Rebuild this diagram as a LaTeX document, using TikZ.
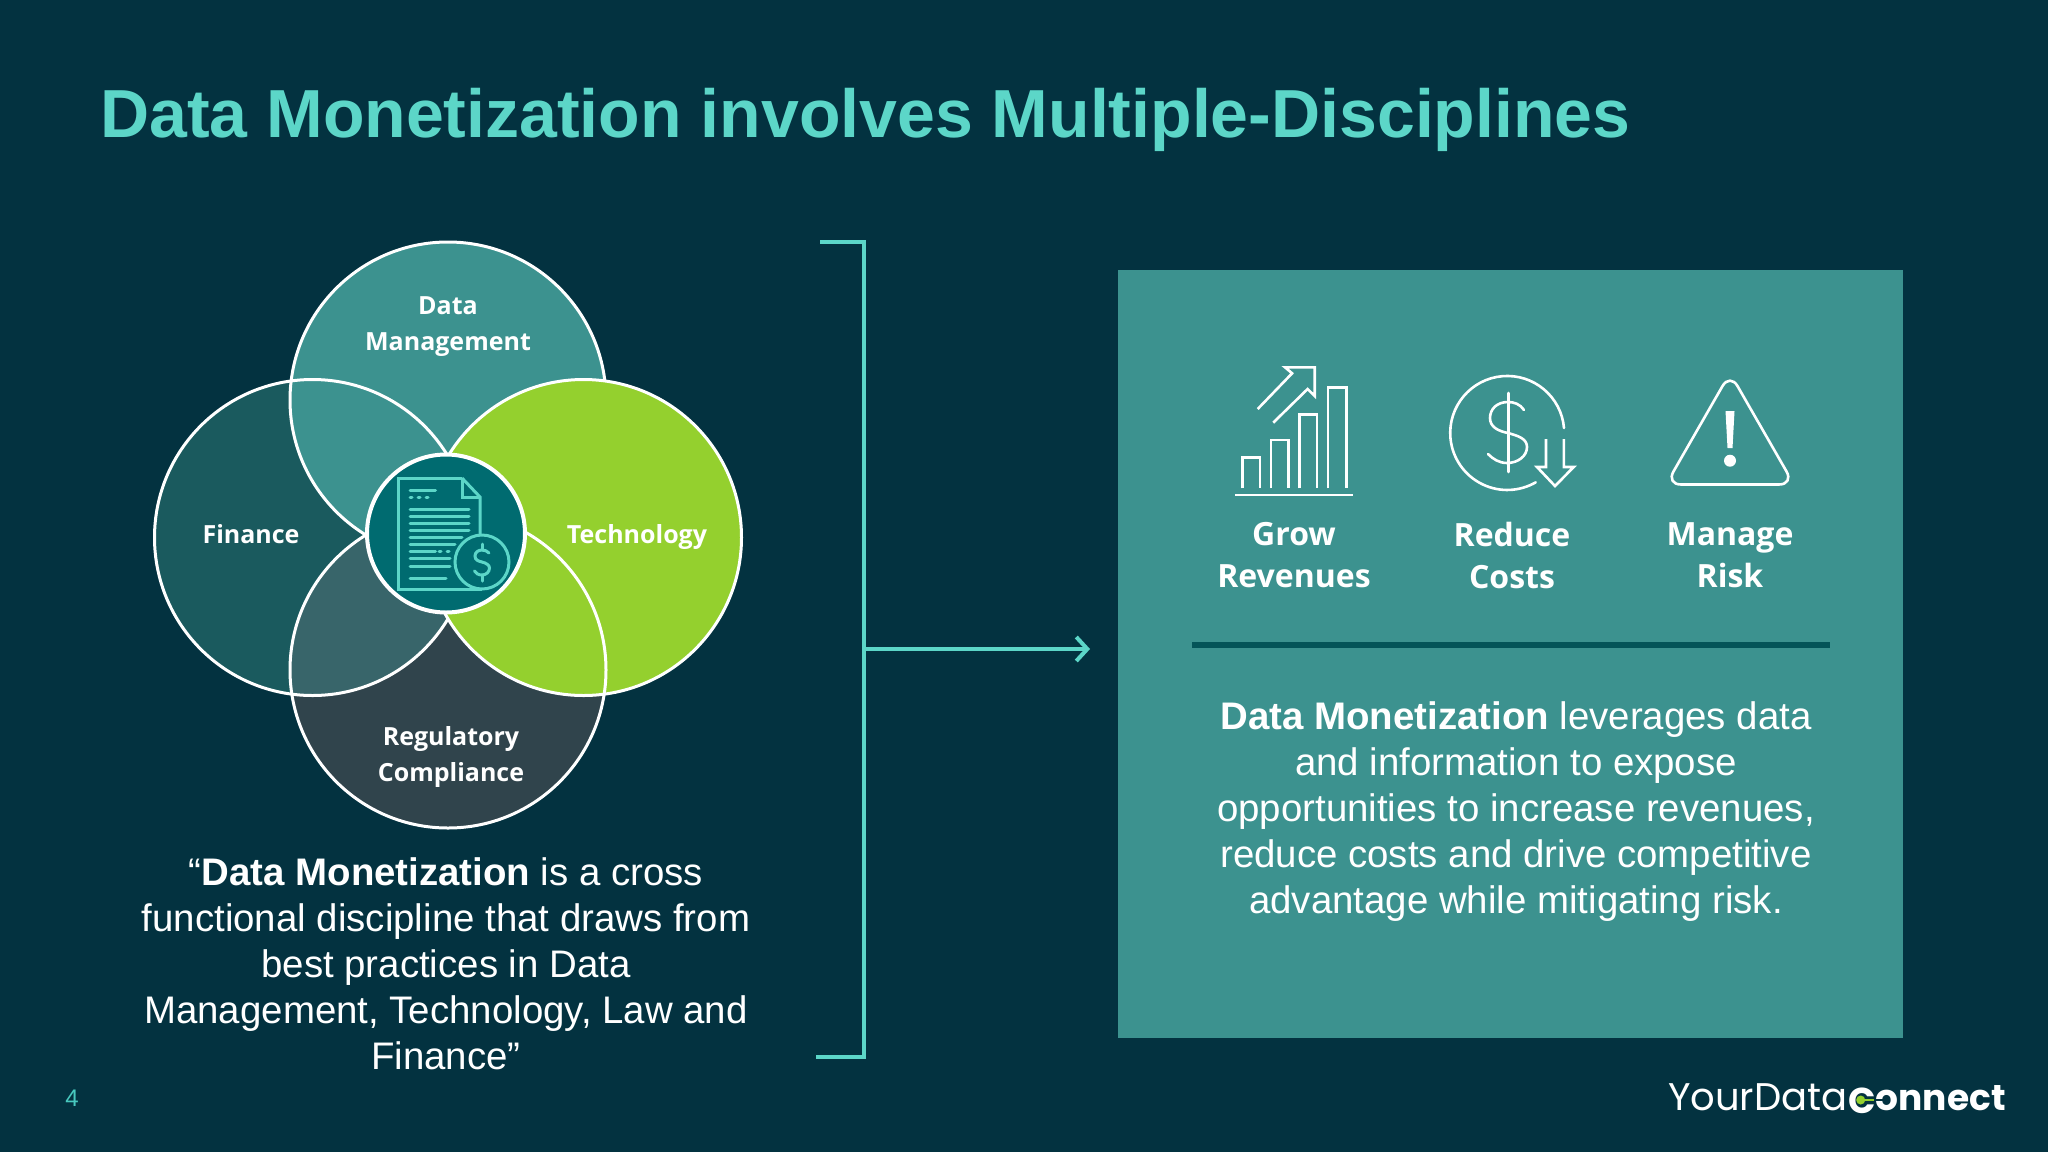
\documentclass[tikz,border=0pt]{standalone}
\usepackage{fontspec}
\setmainfont{Liberation Sans}
\newfontfamily\labelfont{Open Sans}
\newfontfamily\logofont{Poppins}
\usetikzlibrary{arrows.meta}
\definecolor{bgc}{RGB}{3,50,64}
\definecolor{aqua}{RGB}{92,214,200}
\definecolor{boxc}{RGB}{60,146,143}
\definecolor{finc}{RGB}{26,90,94}
\definecolor{lawc}{RGB}{48,68,76}
\definecolor{mixc}{RGB}{56,101,106}
\definecolor{limec}{RGB}{148,208,46}
\definecolor{corec}{RGB}{0,107,112}
\definecolor{rulec}{RGB}{4,84,88}
\definecolor{pagec}{RGB}{72,200,190}
\tikzset{
  x=1pt,y=-1pt,
  ring/.style={draw=white,line width=3pt},
  venntext/.style={text=white,align=center,font=\labelfont\bfseries\fontsize{25}{36}\selectfont,inner sep=0pt},
  icontext/.style={text=white,align=center,font=\labelfont\bfseries\fontsize{32}{42}\selectfont,inner sep=0pt},
  paratext/.style={text=white,align=center,font=\fontsize{38.4}{46}\selectfont,inner sep=0pt},
  docline/.style={draw=aqua,line width=3pt},
  iconline/.style={draw=white,line width=2.6pt},
  bracketline/.style={draw=aqua,line width=4pt},
}
\begin{document}
\begin{tikzpicture}
\useasboundingbox (0,0) rectangle (2048,1152);
\fill[bgc] (0,0) rectangle (2048,1152);
\node[anchor=base west,text=aqua,font=\bfseries\fontsize{68}{74}\selectfont,inner sep=0pt] (title) at (100,137) {Data Monetization involves Multiple-Disciplines};

% venn
\coordinate (ctop) at (448,400);
\coordinate (cbot) at (448,670);
\coordinate (clef) at (312.5,537.5);
\coordinate (crig) at (583.5,537.5);
\coordinate (ccen) at (446,533.5);
\fill[finc] (clef) circle[radius=158pt];
\fill[lawc] (cbot) circle[radius=158pt];
\begin{scope}\clip (clef) circle[radius=158pt]; \fill[mixc] (cbot) circle[radius=158pt];\end{scope}
\draw[ring] (clef) circle[radius=158pt];
\draw[ring] (cbot) circle[radius=158pt];
\fill[boxc] (ctop) circle[radius=158pt];
\draw[ring] (ctop) circle[radius=158pt];
\begin{scope}\clip (ctop) circle[radius=158pt]; \draw[ring] (clef) circle[radius=158pt];\end{scope}
\fill[limec] (crig) circle[radius=158pt];
\draw[ring] (crig) circle[radius=158pt];
\begin{scope}\clip (crig) circle[radius=158pt]; \draw[ring] (cbot) circle[radius=158pt];\end{scope}
\fill[corec] (ccen) circle[radius=80pt];
\draw[draw=white,line width=4pt] (ccen) circle[radius=79pt];

% document icon
\draw[docline] (462,478) -- (398,478) -- (398,589) -- (482,589);
\draw[docline] (462,478) -- (462,497) -- (480,497);
\draw[docline] (462,478) -- (480,497) -- (480,535);
\draw[docline,line cap=round] (410,490) -- (435.5,490);
\draw[docline,line cap=round] (410,497) -- (412,497) (418,497) -- (420,497) (426,497) -- (428,497);
\foreach \yy/\xe in {509/469,516/469,523/469,530/469,537/462,544/455,558/450,566/450,578/446}{
  \draw[docline,line cap=round] (410,\yy) -- (\xe,\yy);
}
\draw[docline,line cap=round] (410,551) -- (435.5,551) (439,551) -- (441,551) (447,551) -- (449,551);
\filldraw[fill=corec,docline] (482,562) circle[radius=27pt];
\draw[docline,line cap=round] (489,553) .. controls (487,551) and (485,550) .. (482,550) .. controls (478,550) and (475,552.5) .. (475,556) .. controls (475,560) and (478,561) .. (482,562) .. controls (486,563) and (489.5,565) .. (489.5,568) .. controls (489.5,572) and (486,575) .. (482,575) .. controls (478.5,575) and (476,573.5) .. (474.5,571);
\draw[docline,line cap=round] (482,544) -- (482,550) (482,575) -- (482,581);

\node[venntext] (ndata) at (448,327) {Data\\Management};
\node[venntext,anchor=base] (nfin) at (251,543) {Finance};
\node[venntext,anchor=base] (ntech) at (637,543) {Technology};
\node[venntext] (nreg) at (451,757) {Regulatory\\Compliance};

\node[paratext] (quote) at (446,963.5) {“\textbf{Data Monetization} is a cross\\functional discipline that draws from\\best practices in Data\\Management, Technology, Law and\\Finance”};

% bracket
\coordinate (bra) at (820,241.5);
\coordinate (brb) at (864,241.5);
\coordinate (brc) at (864,1056.5);
\coordinate (brd) at (816,1056.5);
\coordinate (arrs) at (864,649);
\coordinate (arre) at (1090,649);
\draw[bracketline] (bra) -- (brb) -- (brc) -- (brd);
\draw[bracketline,-{Straight Barb[length=11pt,width=24pt,line width=4pt]}] (arrs) -- (arre);

% box
\fill[boxc] (1118,270) rectangle (1903,1038);
\node[icontext] (ngrow) at (1294,555) {Grow\\Revenues};
\node[icontext] (nred) at (1512,555) {Reduce\\Costs};
\node[icontext] (nman) at (1730,555) {Manage\\Risk};
\coordinate (rula) at (1192,644.5);
\coordinate (rulb) at (1830,644.5);
\draw[draw=rulec,line width=6pt] (rula) -- (rulb);
\node[paratext] (body) at (1516,812) {\textbf{Data Monetization} leverages data\\and information to expose\\opportunities to increase revenues,\\reduce costs and drive competitive\\advantage while mitigating risk.};

% grow icon
\draw[iconline] (1242.3,488.3) -- (1242.3,457.7) -- (1260,457.7) -- (1260,488.3);
\draw[iconline] (1270.8,488.3) -- (1270.8,440) -- (1288.2,440) -- (1288.2,488.3);
\draw[iconline] (1299.6,488.3) -- (1299.6,414.7) -- (1317,414.7) -- (1317,488.3);
\draw[iconline] (1328,488.3) -- (1328,387.3) -- (1346.3,387.3) -- (1346.3,488.3);
\draw[iconline] (1234.8,495) -- (1353.4,495);
\draw[iconline] (1257.7,409) -- (1292.1,373.3) -- (1285,367.3) -- (1314.7,367.3) -- (1314.7,396) -- (1307.6,389) -- (1273.2,422.7);

% reduce icon
\draw[iconline,line cap=round] (1564,428) arc[start angle=5,end angle=300,radius=57pt];
\draw[iconline,line cap=round] (1524,410) .. controls (1520,404) and (1514,402) .. (1508,402) .. controls (1497,402) and (1490,409) .. (1490,418) .. controls (1490,427) and (1498,431) .. (1508,433) .. controls (1519,436) and (1527,439) .. (1527,447) .. controls (1527,456) and (1518,463) .. (1507,463) .. controls (1499,463) and (1493,459) .. (1488,454);
\draw[iconline,line cap=round] (1508.4,393) -- (1508.4,472);
\draw[iconline] (1546,439) -- (1546,467) -- (1537,467) -- (1555,486) -- (1573.7,467) -- (1563.8,467) -- (1563.8,439);

% warning icon
\draw[iconline,rounded corners=15pt] (1730,484.5) -- (1666,484.5) -- (1730,373) -- (1794,484.5) -- cycle;
\fill[white] (1725.5,411) -- (1734.5,411) -- (1732.5,448) -- (1727.5,448) -- cycle;
\fill[white] (1730,460.7) circle[radius=6pt];

% page number and logo
\node[anchor=center,text=pagec,font=\fontsize{24}{28}\selectfont,inner sep=0pt] (pageno) at (72,1098) {4};
\node[anchor=base west,text=white,font=\logofont\fontsize{38.5}{42}\selectfont,inner sep=0pt] (logoa) at (1668,1110) {YourData};
\node[anchor=base west,text=white,font=\logofont\bfseries\fontsize{36}{40}\selectfont,inner sep=0pt] (logob) at (1848,1110) {\raisebox{-3pt}{C}onnect};
\coordinate (dota) at (1860.7,1100);
\coordinate (dotm) at (1874,1100);
\coordinate (dotb) at (1884,1100);
\draw[bgc,line width=1.5pt] (dotm) -- (dotb);
\draw[limec,line width=1.5pt] (dota) -- (dotm);
\fill[limec] (dota) circle[radius=4.5pt];
\end{tikzpicture}
\end{document}
